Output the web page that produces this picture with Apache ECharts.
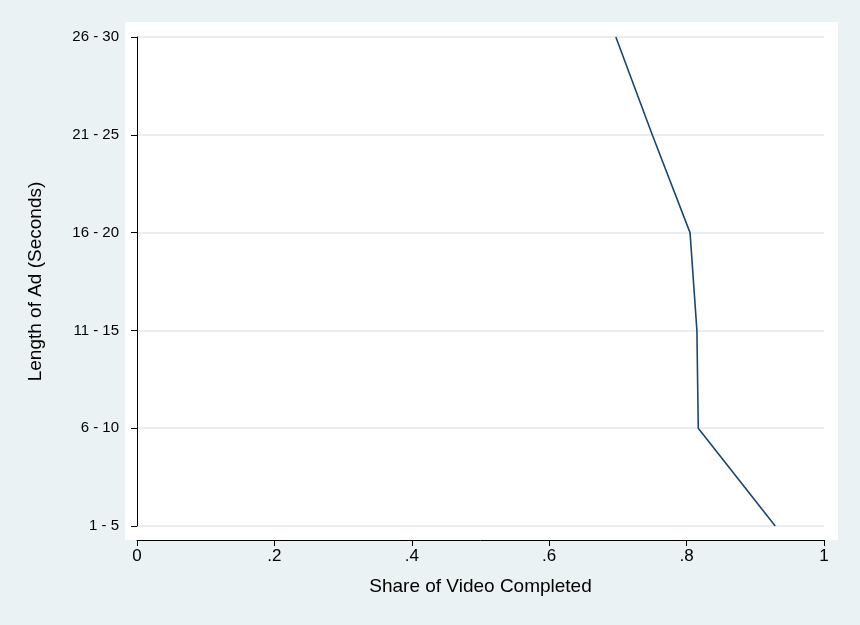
<!DOCTYPE html>
<html><head><meta charset="utf-8">
<script src="https://cdn.jsdelivr.net/npm/echarts@6/dist/echarts.min.js"></script>
<style>html,body{margin:0;padding:0;background:#eaf2f3}#c{width:860px;height:625px}</style>
</head><body><div id="c"></div>
<script>
const categories = ["1 - 5","6 - 10","11 - 15","16 - 20","21 - 25","26 - 30"];
const shareCompleted = [0.929, 0.817, 0.815, 0.805, 0.75, 0.697];
const xTicks = {0:"0",0.2:".2",0.4:".4",0.6:".6",0.8:".8",1:"1"};
const chart = echarts.init(document.getElementById('c'));
const font = "Helvetica, 'Liberation Sans', Arial, sans-serif";
chart.setOption({
  backgroundColor: '#eaf2f3',
  animation: false,
  graphic: [{type:'rect', shape:{x:125,y:22,width:713,height:518}, style:{fill:'#ffffff'}, z:-10}],
  grid: {left:137, right:36, top:37, bottom:99},
  xAxis: {type:'value', min:0, max:1, interval:0.2, offset:14,
    axisLine:{show:true, lineStyle:{color:'#000', width:1}},
    axisTick:{show:true, length:6, lineStyle:{color:'#000'}},
    axisLabel:{color:'#000', fontSize:17, fontFamily:font, margin:8, formatter:v=>xTicks[Math.round(v*10)/10] ?? ''},
    splitLine:{show:false},
    name:'Share of Video Completed', nameLocation:'middle', nameGap:37,
    nameTextStyle:{color:'#000', fontSize:19, fontFamily:font}},
  yAxis: {type:'category', data:categories, boundaryGap:false, offset:12,
    axisLine:{show:true, lineStyle:{color:'#000', width:1}},
    axisTick:{show:true, length:6, alignWithLabel:true, lineStyle:{color:'#000'}},
    axisLabel:{color:'#000', fontSize:15, fontFamily:font, margin:6},
    splitLine:{show:true, lineStyle:{color:'#e4e9ec', width:1.5}},
    name:'Length of Ad (Seconds)', nameLocation:'middle', nameGap:80, nameRotate:90,
    nameTextStyle:{color:'#000', fontSize:19, fontFamily:font}},
  series: [{type:'line', data:shareCompleted, symbol:'none',
    lineStyle:{color:'#1a476f', width:1.6}}]
});
</script></body></html>
